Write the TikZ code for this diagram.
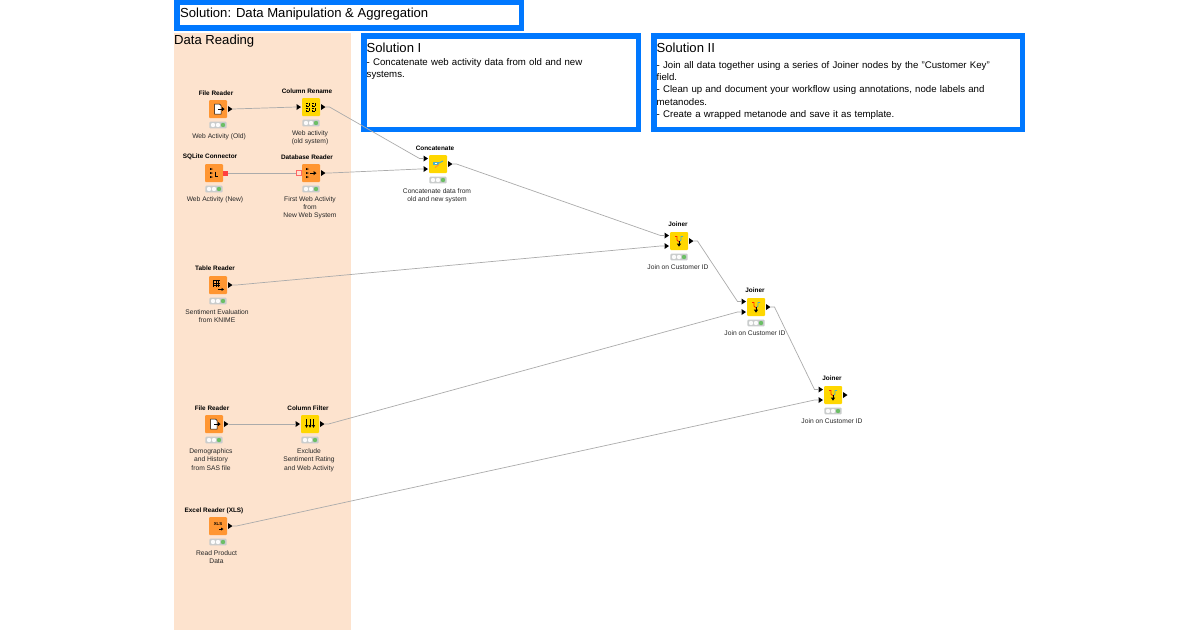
\documentclass[tikz,border=0pt]{standalone}
\usepackage{fontspec}
\setmainfont{Liberation Sans}
\usetikzlibrary{calc}
\definecolor{annoblue}{HTML}{0078FF}
\definecolor{panelorange}{HTML}{FDE3CE}
\definecolor{srcorange}{HTML}{FF9632}
\definecolor{manipyellow}{HTML}{FFD700}
\definecolor{edgegray}{HTML}{ABABAB}
\definecolor{lightgreen}{HTML}{6CBF66}
\definecolor{lightbar}{HTML}{C9CCCC}
\definecolor{teal}{HTML}{4BB0C8}

\begin{document}
\begin{tikzpicture}[x=1pt, y=-1pt]

% Styles
\tikzset{
    annobox/.style={rectangle, draw=annoblue, line width=5.5pt, fill=white, inner sep=0pt},
    annohead/.style={anchor=west, inner sep=0pt, font=\fontsize{13.1}{16}\selectfont},
    annotext/.style={anchor=north west, inner sep=0pt, align=left, font=\fontsize{9.65}{12.4}\selectfont},
    knode/.style={rectangle, rounded corners=1pt, minimum width=18pt, minimum height=18pt, inner sep=0pt},
    source/.style={knode, fill=srcorange},
    manip/.style={knode, fill=manipyellow},
    ktitle/.style={inner sep=0pt, font=\fontsize{6.4}{8}\selectfont\bfseries},
    kcaption/.style={anchor=north, inner sep=0pt, align=center, font=\fontsize{6.7}{8.3}\selectfont, text=black!85},
    edge/.style={edgegray, line width=0.7pt},
    fileicon/.pic={
        \fill[white, draw=black, line width=0.5pt] (-3.5,-5) -- (1.5,-5) -- (3,-3.5) -- (3,5) -- (-3.5,5) -- cycle;
        \fill (0,-0.4) rectangle (4.5,0.6);
        \fill (4,-2) -- (6.5,0.1) -- (4,2.2) -- cycle;
    },
    renameicon/.pic={
        \foreach \a/\b in {-5/-4,1/-4,-5/1,1/1} {
            \draw[black, line width=0.45pt, dash pattern=on 1.4pt off 0.8pt] (\a,\b) rectangle ++(3.4,3);
        }
    },
    dbicon/.pic={
        \foreach \b in {-5,-1,3} {
            \fill (-4,\b) -- (-1,\b+1) -- (-4,\b+2) -- cycle;
        }
        \draw[black, line width=0.8pt] (1,-1.5) -- (1,3) -- (4,3);
    },
    readicon/.pic={
        \foreach \b in {-5,-1,3} {
            \fill (-5,\b) -- (-2,\b+1) -- (-5,\b+2) -- cycle;
        }
        \fill (-1,-0.4) rectangle (3,0.6);
        \fill (2.5,-2) -- (5.5,0.1) -- (2.5,2.2) -- cycle;
    },
    tableicon/.pic={
        \draw[black, line width=0.5pt, fill=white] (-5,-5) grid[step=2.2pt] (1.6,1.6);
        \fill (0,4) rectangle (4,4.8);
        \fill (3.5,2.8) -- (6,4.4) -- (3.5,6) -- cycle;
    },
    filtericon/.pic={
        \foreach \a in {-3.5,0,3.5} {
            \draw[black, line width=0.7pt] (\a,-5) -- (\a,3);
            \fill (\a-1.6,1) -- (\a+1.6,1) -- (\a,3.8) -- cycle;
        }
    },
    concaticon/.pic={
        \fill[teal] (-5,-2) rectangle (1,1);
        \fill[white] (-3,-1.2) rectangle (-1,0.2);
        \draw[teal, line width=1pt] (1,-1) -- (5,-3);
        \draw[srcorange, line width=1pt] (-3,3.5) -- (1,0.5);
    },
    joinicon/.pic={
        \draw[red!70!orange, line width=0.8pt] (-4,-4.5) -- (-2,-4.5) -- (-2,-1) -- (0,1);
        \draw[teal, line width=0.8pt] (4,-4.5) -- (2,-4.5) -- (2,-1) -- (0,1);
        \draw[black, line width=1pt] (0,0) -- (0,3);
        \fill (-2.2,2.6) -- (2.2,2.6) -- (0,5.6) -- cycle;
    },
    xlsicon/.pic={
        \node[inner sep=0pt, font=\fontsize{4.3}{4.3}\selectfont\bfseries] (xlslabel) at (0,-2.4) {XLS};
        \fill (0.5,2.6) rectangle (3.5,3.4);
        \fill (3,1.5) -- (5.5,3) -- (3,4.5) -- cycle;
    }
}

\useasboundingbox (0,0) rectangle (1200,630);

% Panel
\fill[panelorange] (174,33) rectangle (351,630);
\node[annohead] (readhead) at (174,41) {Data Reading};

% Annotations
\node[annobox, minimum width=344.5pt, minimum height=25.5pt] (topbox) at (349.3,15.2) {};
\node[annohead] (tophead) at (180,14) {Solution: Data Manipulation \& Aggregation};
\node[annobox, minimum width=274.5pt, minimum height=93.5pt] (sol1) at (501,82.5) {};
\node[annohead] (sol1head) at (366.5,48) {Solution I};
\node[annotext, text width=262pt] (sol1text) at (366.5,58) {- Concatenate web activity data from old and new\\systems.};
\node[annobox, minimum width=368.5pt, minimum height=93.5pt] (sol2) at (838.3,82.5) {};
\node[annohead] (sol2head) at (656.5,48) {Solution II};
\node[annotext, text width=355pt] (sol2text) at (656.5,61) {- Join all data together using a series of Joiner nodes by the "Customer Key"\\field.\\- Clean up and document your workflow using annotations, node labels and\\metanodes.\\- Create a wrapped metanode and save it as template.};

% Sources
\node[source] (fr1) at (218,109) {};
\node[source] (sql) at (214,173) {};
\node[source] (tr) at (218,285) {};
\node[source] (fr2) at (214,424) {};
\node[source] (xls) at (218,526) {};
\node[source] (db) at (311,173) {};

% Manipulators
\node[manip] (cr) at (311,107) {};
\node[manip] (cf) at (310,424) {};
\node[manip] (con) at (438,164) {};
\node[manip] (j1) at (679,241) {};
\node[manip] (j2) at (756,307) {};
\node[manip] (j3) at (833,395) {};

% Icons
\pic at (fr1) {fileicon};
\pic at (fr2) {fileicon};
\pic at (cr) {renameicon};
\pic at (sql) {dbicon};
\pic at (db) {readicon};
\pic at (tr) {tableicon};
\pic at (cf) {filtericon};
\pic at (con) {concaticon};
\pic at (j1) {joinicon};
\pic at (j2) {joinicon};
\pic at (j3) {joinicon};
\pic at (xls) {xlsicon};

% Titles
\node[ktitle, above=0pt] (t1) at (216,95.5) {File Reader};
\node[ktitle, above=0pt] (t2) at (307,93.5) {Column Rename};
\node[ktitle, above=0pt] (t3) at (210,160) {SQLite Connector};
\node[ktitle, above=0pt] (t4) at (307,160) {Database Reader};
\node[ktitle, above=0pt] (t5) at (435,150.5) {Concatenate};
\node[ktitle, above=0pt] (t6) at (678,227) {Joiner};
\node[ktitle, above=0pt] (t7) at (755,293) {Joiner};
\node[ktitle, above=0pt] (t8) at (832,381) {Joiner};
\node[ktitle, above=0pt] (t9) at (215,271) {Table Reader};
\node[ktitle, above=0pt] (t10) at (212,410.5) {File Reader};
\node[ktitle, above=0pt] (t11) at (308,410.5) {Column Filter};
\node[ktitle, above=0pt] (t12) at (214,514) {Excel Reader (XLS)};

% Captions
\node[kcaption] (c1) at (219,133) {Web Activity (Old)};
\node[kcaption] (c2) at (310,130) {Web activity\\(old system)};
\node[kcaption] (c3) at (215,196) {Web Activity (New)};
\node[kcaption] (c4) at (310,196) {First Web Activity\\from\\New Web System};
\node[kcaption] (c5) at (437,188) {Concatenate data from\\old and new system};
\node[kcaption] (c6) at (678,264) {Join on Customer ID};
\node[kcaption] (c7) at (755,330) {Join on Customer ID};
\node[kcaption] (c8) at (832,418) {Join on Customer ID};
\node[kcaption] (c9) at (217,309) {Sentiment Evaluation\\from KNIME};
\node[kcaption] (c10) at (211,448.5) {Demographics\\and History\\from SAS file};
\node[kcaption] (c11) at (309,448.5) {Exclude\\Sentiment Rating\\and Web Activity};
\node[kcaption] (c12) at (216.5,550) {Read Product\\Data};

% Status lights
\foreach \n in {fr1,sql,tr,fr2,xls,db,cr,cf,con,j1,j2,j3} {
    \fill[lightbar, rounded corners=1pt] ($(\n)+(-8.7,12.7)$) rectangle ($(\n)+(8.7,19.3)$);
    \fill[white!92!lightbar] ($(\n)+(-5,16)$) circle (2.2pt);
    \fill[white!92!lightbar] ($(\n)+(0,16)$) circle (2.2pt);
    \fill[lightgreen] ($(\n)+(5,16)$) circle (2.2pt);
}

% Ports
\foreach \n in {fr1,tr,fr2,xls,db,cr,cf,con,j1,j2,j3} {
    \coordinate (\n-out) at ($(\n)+(14.5,0)$);
    \fill ($(\n)+(10,-3)$) -- (\n-out) -- ($(\n)+(10,3)$) -- cycle;
}
\foreach \n in {cr,cf} {
    \coordinate (\n-in) at ($(\n)+(-14.5,0)$);
    \fill (\n-in) ++(0,-3) -- ($(\n)+(-10,0)$) -- ($(\n)+(-14.5,3)$) -- cycle;
}
\foreach \n in {con,j1,j2,j3} {
    \coordinate (\n-ina) at ($(\n)+(-14.5,-5.5)$);
    \coordinate (\n-inb) at ($(\n)+(-14.5,5)$);
    \fill (\n-ina) ++(0,-3) -- ($(\n-ina)+(4.5,0)$) -- ($(\n-ina)+(0,3)$) -- cycle;
    \fill (\n-inb) ++(0,-3) -- ($(\n-inb)+(4.5,0)$) -- ($(\n-inb)+(0,3)$) -- cycle;
}
\node[rectangle, fill=red!75!white, minimum size=5pt, inner sep=0pt] (sql-out) at ($(sql)+(11.5,0)$) {};
\node[rectangle, draw=red!60!white, fill=panelorange, line width=0.6pt, minimum size=4.5pt, inner sep=0pt] (db-in) at ($(db)+(-12,0)$) {};

% Connections
\draw[edge] (fr1-out) -- (cr-in);
\draw[edge] (sql-out) -- (db-in);
\draw[edge] (fr2-out) -- (cf-in);
\draw[edge] (cr-out) -- ++(4,0) -- ($(con-ina)+(-4,0)$) -- (con-ina);
\draw[edge] (db-out) -- ++(4,0) -- ($(con-inb)+(-4,0)$) -- (con-inb);
\draw[edge] (con-out) -- ++(4,0) -- ($(j1-ina)+(-4,0)$) -- (j1-ina);
\draw[edge] (tr-out) -- ++(4,0) -- ($(j1-inb)+(-4,0)$) -- (j1-inb);
\draw[edge] (j1-out) -- ++(4,0) -- ($(j2-ina)+(-4,0)$) -- (j2-ina);
\draw[edge] (cf-out) -- ++(4,0) -- ($(j2-inb)+(-4,0)$) -- (j2-inb);
\draw[edge] (j2-out) -- ++(4,0) -- ($(j3-ina)+(-4,0)$) -- (j3-ina);
\draw[edge] (xls-out) -- ++(4,0) -- ($(j3-inb)+(-4,0)$) -- (j3-inb);

\end{tikzpicture}
\end{document}
